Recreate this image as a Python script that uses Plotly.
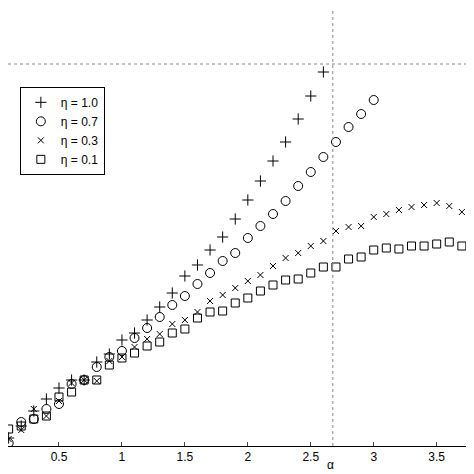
import plotly.graph_objects as go

alpha_plus = [0.1,0.2,0.3,0.4,0.5,0.6,0.7,0.8,0.9,1.0,1.1,1.2,1.3,1.4,1.5,1.6,1.7,1.8,1.9,2.0,2.1,2.2,2.3,2.4,2.5,2.6]
y_plus = [0.08,0.20,0.35,0.47,0.58,0.66,0.66,0.84,0.92,1.06,1.13,1.26,1.39,1.53,1.70,1.81,1.96,2.09,2.27,2.46,2.65,2.85,3.04,3.27,3.50,3.74]
alpha_circ = [0.1,0.2,0.3,0.4,0.5,0.6,0.7,0.8,0.9,1.0,1.1,1.2,1.3,1.4,1.5,1.6,1.7,1.8,1.9,2.0,2.1,2.2,2.3,2.4,2.5,2.6,2.7,2.8,2.9,3.0]
y_circ = [0.03,0.24,0.27,0.37,0.42,0.62,0.66,0.79,0.89,0.95,1.08,1.18,1.29,1.41,1.50,1.62,1.73,1.85,1.93,2.08,2.20,2.32,2.45,2.60,2.74,2.89,3.04,3.19,3.32,3.46]
alpha_x = [0.1,0.2,0.3,0.4,0.5,0.6,0.7,0.8,0.9,1.0,1.1,1.2,1.3,1.4,1.5,1.6,1.7,1.8,1.9,2.0,2.1,2.2,2.3,2.4,2.5,2.6,2.7,2.8,2.9,3.0,3.1,3.2,3.3,3.4,3.5,3.6,3.7,3.8]
y_x = [0.07,0.16,0.37,0.30,0.45,0.63,0.66,0.65,0.85,0.89,0.99,1.07,1.12,1.22,1.26,1.34,1.45,1.51,1.58,1.65,1.71,1.80,1.88,1.93,2.00,2.05,2.15,2.19,2.20,2.29,2.32,2.36,2.39,2.41,2.43,2.40,2.34,2.29]
alpha_sq = [0.1,0.2,0.3,0.4,0.5,0.6,0.7,0.8,0.9,1.0,1.1,1.2,1.3,1.4,1.5,1.6,1.7,1.8,1.9,2.0,2.1,2.2,2.3,2.4,2.5,2.6,2.7,2.8,2.9,3.0,3.1,3.2,3.3,3.4,3.5,3.6,3.7,3.8]
y_sq = [0.17,0.20,0.27,0.30,0.49,0.54,0.66,0.66,0.81,0.88,0.93,1.00,1.04,1.13,1.17,1.28,1.34,1.35,1.43,1.48,1.55,1.61,1.66,1.67,1.73,1.79,1.79,1.87,1.89,1.96,1.98,1.97,2.00,2.00,2.02,2.04,2.00,1.97]

labels = ["η = 1.0", "η = 0.7", "η = 0.3", "η = 0.1"]
h_level = 3.82
v_level = 2.675

fig = go.Figure()
specs = [(alpha_plus, y_plus, "cross-thin-open", 8), (alpha_circ, y_circ, "circle-open", 9),
         (alpha_x, y_x, "x-thin-open", 6), (alpha_sq, y_sq, "square-open", 8)]
for (xs, ys, sym, sz), lab in zip(specs, labels):
    fig.add_trace(go.Scatter(x=xs, y=ys, mode="markers", name=lab,
                             marker=dict(symbol=sym, size=sz, color="black",
                                         line=dict(color="black", width=1))))
fig.add_hline(y=h_level, line=dict(color="#888", width=1, dash="dot"))
fig.add_vline(x=v_level, line=dict(color="#888", width=1, dash="dot"))
fig.add_annotation(text="α", x=0.5, xref="paper", y=-30, yref="y domain" if False else "paper",
                   showarrow=False)
fig.layout.annotations = []
fig.add_annotation(text="α", xref="x", x=v_level - 0.015, yref="paper", y=0,
                   yshift=-28, showarrow=False, font=dict(size=12))

fig.update_layout(
    width=474, height=474, plot_bgcolor="white", paper_bgcolor="white",
    margin=dict(l=0, r=0, t=0, b=36, autoexpand=False),
    font=dict(family="Liberation Sans", size=12, color="black"),
    legend=dict(x=0.025, y=0.82, xanchor="left", yanchor="top",
                bordercolor="black", borderwidth=1, bgcolor="white",
                font=dict(size=12), tracegroupgap=6),
    xaxis=dict(range=[0.095, 3.86], tickvals=[0.5,1,1.5,2,2.5,3,3.5],
               ticktext=["0.5","1","1.5","2","2.5","3","3.5"], automargin=False,
               showgrid=False, zeroline=False, showline=True, linecolor="black",
               mirror=True, ticks="inside", ticklen=4),
    yaxis=dict(range=[0, 4.38], showgrid=False, zeroline=False, showline=True, automargin=False,
               linecolor="black", mirror=True, showticklabels=False, ticks=""),
)
fig.write_html("out.html")
